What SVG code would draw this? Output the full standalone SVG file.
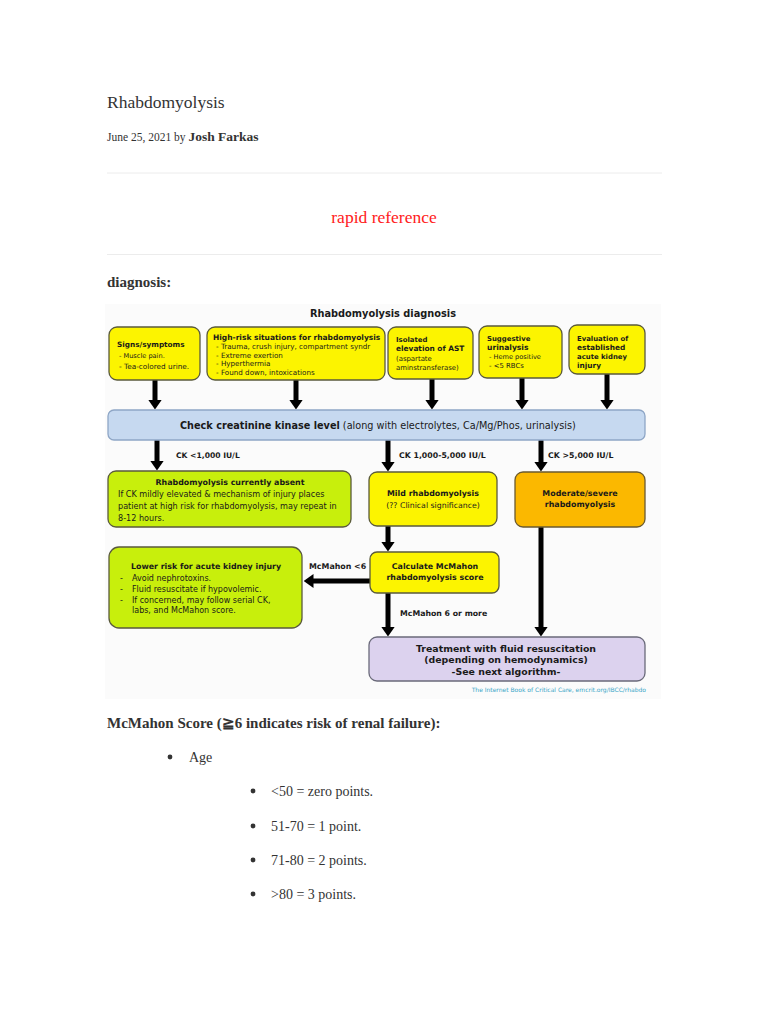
<svg xmlns="http://www.w3.org/2000/svg" width="768" height="1024" viewBox="0 0 768 1024">
<defs>
<style>
.page{font-family:"Liberation Serif","Times New Roman",serif;fill:#333}
.d{font-family:"DejaVu Sans","Verdana",sans-serif;fill:#1a1a1a}
.b{font-weight:bold}
.yel{fill:#fcf400;stroke:#5a5a3c;stroke-width:1.3}
.grn{fill:#c8ef0c;stroke:#5a5a3c;stroke-width:1.3}
.org{fill:#fbb800;stroke:#6a5a30;stroke-width:1.3}
.lav{fill:#dcd2ee;stroke:#6a6a7a;stroke-width:1.3}
.blu{fill:#c6d9f0;stroke:#8ea6c6;stroke-width:1.3}
.arr{stroke:#000;stroke-width:5;fill:none;marker-end:url(#ah)}
.sep{stroke:#ececec;stroke-width:1}
</style>
<marker id="ah" viewBox="0 -7 10 14" markerWidth="10" markerHeight="14" refX="0.5" refY="0" markerUnits="userSpaceOnUse" orient="auto">
<path d="M0,-7 L10,0 L0,7 z" fill="#000"/>
</marker>
</defs>
<rect x="0" y="0" width="768" height="1024" fill="#ffffff"/>

<g id="header">
<text class="page" x="107" y="108" font-size="17.5">Rhabdomyolysis</text>
<text class="page" x="107" y="141" font-size="11.5">June 25, 2021 by <tspan font-size="13.5" font-weight="bold">Josh Farkas</tspan></text>
<line class="sep" x1="107" y1="173" x2="662" y2="173"/>
<text x="384" y="223" font-size="17.5" text-anchor="middle" font-family="Liberation Serif, serif" fill="#ff2020">rapid reference</text>
<line class="sep" x1="107" y1="254.5" x2="662" y2="254.5"/>
<text class="page b" x="107" y="287" font-size="15">diagnosis:</text>
</g>

<rect x="105" y="304" width="556" height="395" fill="#fbfbfb"/>
<text class="d b" x="383" y="317" font-size="9.8" text-anchor="middle">Rhabdomyolysis diagnosis</text>

<g id="connectors">
<line class="arr" x1="155" y1="380" x2="155" y2="400"/>
<line class="arr" x1="296" y1="380" x2="296" y2="400"/>
<line class="arr" x1="432" y1="379" x2="432" y2="400"/>
<line class="arr" x1="522" y1="378" x2="522" y2="400"/>
<line class="arr" x1="607" y1="374" x2="607" y2="400"/>
<line class="arr" x1="157" y1="440" x2="157" y2="461"/>
<line class="arr" x1="388" y1="440" x2="388" y2="462"/>
<line class="arr" x1="541" y1="440" x2="541" y2="462"/>
<line class="arr" x1="388" y1="526" x2="388" y2="542"/>
<line class="arr" x1="388" y1="593" x2="388" y2="627"/>
<line class="arr" x1="541" y1="527" x2="541" y2="627"/>
<line class="arr" x1="370" y1="581" x2="313" y2="581"/>
<text class="d b" x="176" y="458" font-size="7.6">CK &lt;1,000 IU/L</text>
<text class="d b" x="399" y="458" font-size="7.8">CK 1,000-5,000 IU/L</text>
<text class="d b" x="548" y="458" font-size="7.8">CK &gt;5,000 IU/L</text>
<text class="d b" x="309" y="569" font-size="7.9">McMahon &lt;6</text>
<text class="d b" x="400" y="616" font-size="7.8">McMahon 6 or more</text>
</g>

<g id="signs">
<rect class="yel" x="109" y="327" width="91" height="53" rx="8"/>
<text class="d b" x="117" y="347" font-size="7.3">Signs/symptoms</text>
<text class="d" x="119" y="358" font-size="6.6"> - Muscle pain.</text>
<text class="d" x="119" y="369" font-size="7.3">- Tea-colored urine.</text>
</g>

<g id="highrisk">
<rect class="yel" x="207" y="327" width="178" height="53" rx="8"/>
<text class="d b" x="213" y="340" font-size="7.5">High-risk situations for rhabdomyolysis</text>
<text class="d" x="216" y="349" font-size="7.2"> - Trauma, crush injury, compartment syndr</text>
<text class="d" x="216" y="357.5" font-size="7.2"> - Extreme exertion</text>
<text class="d" x="216" y="366" font-size="7.2"> - Hyperthermia</text>
<text class="d" x="216" y="374.5" font-size="7.2"> - Found down, intoxications</text>
</g>

<g id="ast">
<rect class="yel" x="388" y="327" width="85" height="52" rx="8"/>
<text class="d b" x="396" y="342" font-size="6.9">Isolated</text>
<text class="d b" x="396" y="351" font-size="7.4">elevation of AST</text>
<text class="d" x="396" y="361" font-size="6.9">(aspartate</text>
<text class="d" x="396" y="370" font-size="6.9">aminstransferase)</text>
</g>

<g id="urinalysis">
<rect class="yel" x="479" y="326" width="83" height="52" rx="8"/>
<text class="d b" x="487" y="341" font-size="6.9">Suggestive</text>
<text class="d b" x="487" y="350" font-size="7.6">urinalysis</text>
<text class="d" x="489" y="359" font-size="6.6"> - Heme positive</text>
<text class="d" x="489" y="368" font-size="6.9"> - &lt;5 RBCs</text>
</g>

<g id="aki">
<rect class="yel" x="569" y="325" width="76" height="49" rx="8"/>
<text class="d b" x="577" y="341" font-size="6.9">Evaluation of</text>
<text class="d b" x="577" y="350" font-size="7.4">established</text>
<text class="d b" x="577" y="359" font-size="6.9">acute kidney</text>
<text class="d b" x="577" y="368" font-size="7.4">injury</text>
</g>

<g id="ck">
<rect class="blu" x="108" y="410" width="537" height="30" rx="6"/>
<text class="d" x="180" y="428.5" font-size="9.7"><tspan font-weight="bold">Check creatinine kinase level</tspan> (along with electrolytes, Ca/Mg/Phos, urinalysis)</text>
</g>

<g id="absent">
<rect class="grn" x="108" y="471" width="243" height="56" rx="8"/>
<text class="d b" x="230" y="485" font-size="7.9" text-anchor="middle">Rhabdomyolysis currently absent</text>
<text class="d" x="118" y="497" font-size="8.1">If CK mildly elevated &amp; mechanism of injury places</text>
<text class="d" x="118" y="509" font-size="8.1">patient at high risk for rhabdomyolysis, may repeat in</text>
<text class="d" x="118" y="521" font-size="8.1">8-12 hours.</text>
</g>

<g id="mild">
<rect class="yel" x="369" y="472" width="128" height="54" rx="8"/>
<text class="d b" x="433" y="496" font-size="7.9" text-anchor="middle">Mild rhabdomyolysis</text>
<text class="d" x="433" y="508" font-size="7.8" text-anchor="middle">(?? Clinical significance)</text>
</g>

<g id="severe">
<rect class="org" x="515" y="472" width="130" height="55" rx="8"/>
<text class="d b" x="580" y="496" font-size="7.9" text-anchor="middle">Moderate/severe</text>
<text class="d b" x="580" y="507" font-size="7.9" text-anchor="middle">rhabdomyolysis</text>
</g>

<g id="lowrisk">
<rect class="grn" x="109" y="547" width="193" height="81" rx="10"/>
<text class="d b" x="131" y="569" font-size="7.9">Lower risk for acute kidney injury</text>
<text class="d" x="120" y="581" font-size="8">-</text>
<text class="d" x="132" y="581" font-size="8">Avoid nephrotoxins.</text>
<text class="d" x="120" y="592" font-size="8">-</text>
<text class="d" x="132" y="592" font-size="8">Fluid resuscitate if hypovolemic.</text>
<text class="d" x="120" y="603" font-size="8">-</text>
<text class="d" x="132" y="603" font-size="8">If concerned, may follow serial CK,</text>
<text class="d" x="132" y="613" font-size="8">labs, and McMahon score.</text>
</g>

<g id="mcmahon">
<rect class="yel" x="370" y="552" width="129" height="41" rx="7"/>
<text class="d b" x="435" y="569" font-size="7.9" text-anchor="middle">Calculate McMahon</text>
<text class="d b" x="435" y="580" font-size="7.9" text-anchor="middle">rhabdomyolysis score</text>
</g>

<g id="treatment">
<rect class="lav" x="369" y="637" width="276" height="44" rx="8"/>
<text class="d b" x="506" y="651.5" font-size="9.4" text-anchor="middle">Treatment with fluid resuscitation</text>
<text class="d b" x="506" y="663" font-size="9.4" text-anchor="middle">(depending on hemodynamics)</text>
<text class="d b" x="506" y="674.5" font-size="9.4" text-anchor="middle">-See next algorithm-</text>
</g>

<text class="d" x="646" y="692" font-size="6" text-anchor="end" style="fill:#3aa6c8">The Internet Book of Critical Care, emcrit.org/IBCC/rhabdo</text>

<g id="score">
<text class="page b" x="107" y="728" font-size="15">McMahon Score (≧6 indicates risk of renal failure):</text>
<circle cx="170" cy="757" r="2.4" fill="#333"/>
<text class="page" x="189" y="762" font-size="14">Age</text>
<circle cx="253" cy="791" r="2.4" fill="#333"/>
<text class="page" x="271" y="796" font-size="14">&lt;50 = zero points.</text>
<circle cx="253" cy="826" r="2.4" fill="#333"/>
<text class="page" x="271" y="831" font-size="14">51-70 = 1 point.</text>
<circle cx="253" cy="860" r="2.4" fill="#333"/>
<text class="page" x="271" y="865" font-size="14">71-80 = 2 points.</text>
<circle cx="253" cy="894" r="2.4" fill="#333"/>
<text class="page" x="271" y="899" font-size="14">&gt;80 = 3 points.</text>
</g>
</svg>
